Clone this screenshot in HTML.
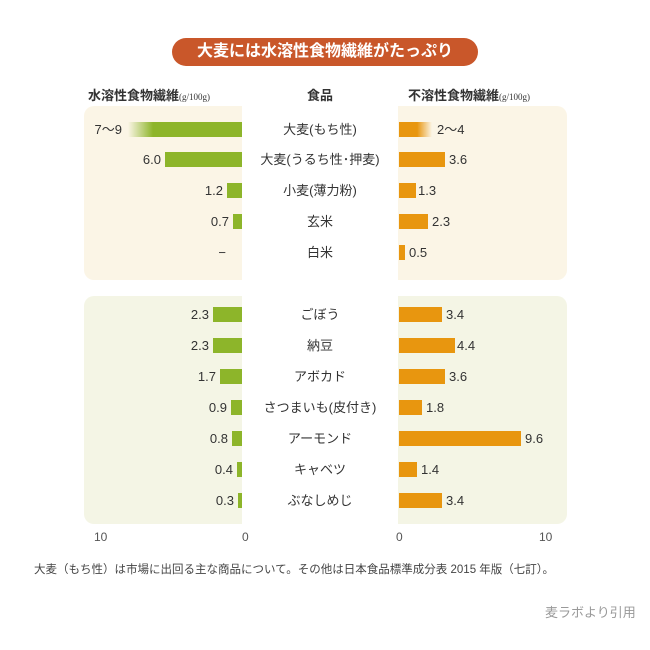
<!DOCTYPE html><html><head><meta charset="utf-8"><style>
body{margin:0;width:650px;height:650px;background:#fff;position:relative;overflow:hidden;font-family:"Liberation Sans","Noto Sans CJK JP",sans-serif;color:#333}
div{position:absolute}
.p{}
.g{background:#8db52a;height:15px}
.o{background:#e8960f;height:15px}
.l{font-size:13px;text-align:right;width:60px;line-height:15px}
.r{font-size:13px;line-height:15px}
.c{font-size:13px;width:156px;left:242px;text-align:center;line-height:15px}
</style></head><body>
<div style="left:172px;top:38px;width:306px;height:28px;border-radius:14px;background:#c9572a;color:#fff;font-size:16px;font-weight:bold;text-align:center;line-height:28px">大麦には水溶性食物繊維がたっぷり</div>
<div style="left:88px;top:88px;font-size:13px;font-weight:bold;line-height:16px">水溶性食物繊維<span style="font-size:9px;font-weight:normal;font-family:'Liberation Serif',serif">(g/100g)</span></div>
<div style="left:242px;width:156px;top:88px;font-size:13px;font-weight:bold;text-align:center;line-height:16px">食品</div>
<div style="left:408px;top:88px;font-size:13px;font-weight:bold;line-height:16px">不溶性食物繊維<span style="font-size:9px;font-weight:normal;font-family:'Liberation Serif',serif">(g/100g)</span></div>
<div style="left:84px;top:106px;width:158px;height:174px;background:#fbf5e6;border-radius:10px 0 0 10px"></div>
<div style="left:398px;top:106px;width:169px;height:174px;background:#fbf5e6;border-radius:0 10px 10px 0"></div>
<div style="left:84px;top:296px;width:158px;height:228px;background:#f4f5e5;border-radius:10px 0 0 10px"></div>
<div style="left:398px;top:296px;width:169px;height:228px;background:#f4f5e5;border-radius:0 10px 10px 0"></div>

<!-- top rows -->
<div class="g" style="left:128px;top:122px;width:114px;background:linear-gradient(90deg,rgba(141,181,42,0),#8db52a 22%)"></div>
<div class="l" style="left:62px;top:122px">7〜9</div>
<div class="c" style="top:122px">大麦(もち性)</div>
<div class="o" style="left:399px;top:122px;width:33px;background:linear-gradient(90deg,#e8960f 55%,rgba(232,150,15,0))"></div>
<div class="r" style="left:437px;top:122px">2〜4</div>

<div class="g" style="left:165px;top:152px;width:77px"></div>
<div class="l" style="left:101px;top:152px">6.0</div>
<div class="c" style="top:152px">大麦(うるち性･押麦)</div>
<div class="o" style="left:399px;top:152px;width:46px"></div>
<div class="r" style="left:449px;top:152px">3.6</div>

<div class="g" style="left:227px;top:183px;width:15px"></div>
<div class="l" style="left:163px;top:183px">1.2</div>
<div class="c" style="top:183px">小麦(薄力粉)</div>
<div class="o" style="left:399px;top:183px;width:17px"></div>
<div class="r" style="left:418px;top:183px">1.3</div>

<div class="g" style="left:233px;top:214px;width:9px"></div>
<div class="l" style="left:169px;top:214px">0.7</div>
<div class="c" style="top:214px">玄米</div>
<div class="o" style="left:399px;top:214px;width:29px"></div>
<div class="r" style="left:432px;top:214px">2.3</div>

<div class="l" style="left:166px;top:245px">−</div>
<div class="c" style="top:245px">白米</div>
<div class="o" style="left:399px;top:245px;width:6px"></div>
<div class="r" style="left:409px;top:245px">0.5</div>

<!-- bottom rows -->
<div class="g" style="left:213px;top:307px;width:29px"></div>
<div class="l" style="left:149px;top:307px">2.3</div>
<div class="c" style="top:307px">ごぼう</div>
<div class="o" style="left:399px;top:307px;width:43px"></div>
<div class="r" style="left:446px;top:307px">3.4</div>

<div class="g" style="left:213px;top:338px;width:29px"></div>
<div class="l" style="left:149px;top:338px">2.3</div>
<div class="c" style="top:338px">納豆</div>
<div class="o" style="left:399px;top:338px;width:56px"></div>
<div class="r" style="left:457px;top:338px">4.4</div>

<div class="g" style="left:220px;top:369px;width:22px"></div>
<div class="l" style="left:156px;top:369px">1.7</div>
<div class="c" style="top:369px">アボカド</div>
<div class="o" style="left:399px;top:369px;width:46px"></div>
<div class="r" style="left:449px;top:369px">3.6</div>

<div class="g" style="left:231px;top:400px;width:11px"></div>
<div class="l" style="left:167px;top:400px">0.9</div>
<div class="c" style="top:400px">さつまいも(皮付き)</div>
<div class="o" style="left:399px;top:400px;width:23px"></div>
<div class="r" style="left:426px;top:400px">1.8</div>

<div class="g" style="left:232px;top:431px;width:10px"></div>
<div class="l" style="left:168px;top:431px">0.8</div>
<div class="c" style="top:431px">アーモンド</div>
<div class="o" style="left:399px;top:431px;width:122px"></div>
<div class="r" style="left:525px;top:431px">9.6</div>

<div class="g" style="left:237px;top:462px;width:5px"></div>
<div class="l" style="left:173px;top:462px">0.4</div>
<div class="c" style="top:462px">キャベツ</div>
<div class="o" style="left:399px;top:462px;width:18px"></div>
<div class="r" style="left:421px;top:462px">1.4</div>

<div class="g" style="left:238px;top:493px;width:4px"></div>
<div class="l" style="left:174px;top:493px">0.3</div>
<div class="c" style="top:493px">ぶなしめじ</div>
<div class="o" style="left:399px;top:493px;width:43px"></div>
<div class="r" style="left:446px;top:493px">3.4</div>

<div style="left:94px;top:530px;font-size:12px;color:#555">10</div>
<div style="left:242px;top:530px;font-size:12px;color:#555">0</div>
<div style="left:396px;top:530px;font-size:12px;color:#555">0</div>
<div style="left:539px;top:530px;font-size:12px;color:#555">10</div>

<div style="left:34px;top:561px;font-size:11.5px;color:#444;white-space:nowrap">大麦（もち性）は市場に出回る主な商品について。その他は日本食品標準成分表 2015 年版（七訂）。</div>
<div style="left:545px;top:602px;font-size:13px;color:#999;white-space:nowrap">麦ラボより引用</div>
</body></html>
